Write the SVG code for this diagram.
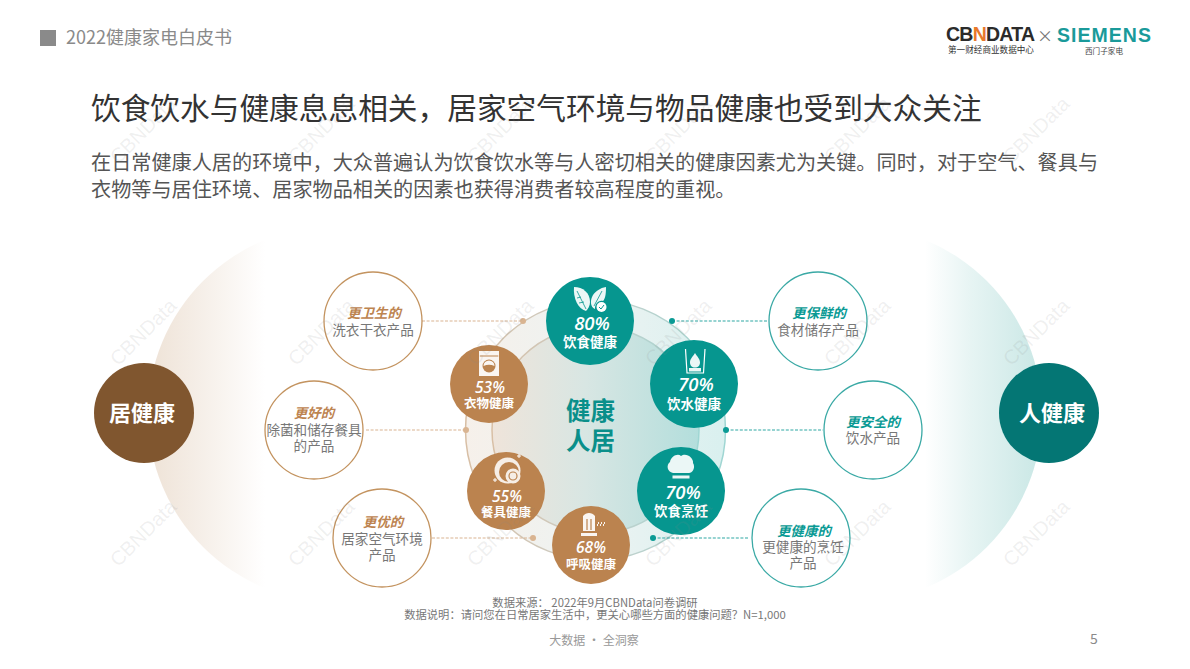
<svg xmlns="http://www.w3.org/2000/svg" width="1190" height="669" viewBox="0 0 1190 669">
<style>
text{font-family:"Noto Sans CJK SC","Noto Sans",sans-serif}
.m{text-anchor:middle}
.wm{font-family:"Liberation Sans",sans-serif;font-size:20px;fill:#888;fill-opacity:.13;text-anchor:middle}
.pb{font-family:"Open Sans",sans-serif;font-style:italic;font-weight:600;fill:#fff;text-anchor:middle;font-size:15.5px}
.pt{font-family:"Open Sans",sans-serif;font-style:italic;font-weight:600;fill:#fff;text-anchor:middle;font-size:18.5px}
.lb{fill:#fff;font-weight:700;text-anchor:middle;font-size:12.5px}
.lt{fill:#fff;font-weight:700;text-anchor:middle;font-size:13.5px}
.hb{fill:#bd8450;font-weight:700;font-style:italic;text-anchor:middle;font-size:13.5px}
.ht{fill:#0a9a94;font-weight:700;font-style:italic;text-anchor:middle;font-size:13.5px}
.bd{fill:#777;text-anchor:middle;font-size:13.6px}
.cb{fill:#fff;stroke:#c3935f;stroke-width:1.3}
.ct{fill:#fff;stroke:#3aa9a5;stroke-width:1.3}
.nb{fill:#bb834f}.nt{fill:#06968f}
.db{stroke:#d9b491;stroke-width:1.2;stroke-dasharray:3 1.6;fill:none}
.dt{stroke:#2fa8a3;stroke-width:1.2;stroke-dasharray:3 1.6;fill:none}
.i{fill:#fff;opacity:.92}
</style>
<defs>
<linearGradient id="gl" gradientUnits="userSpaceOnUse" x1="148" y1="0" x2="265" y2="0"><stop offset="0" stop-color="#eee2d6"/><stop offset=".6" stop-color="#f8f3ee"/><stop offset="1" stop-color="#fff"/></linearGradient>
<linearGradient id="gr" gradientUnits="userSpaceOnUse" x1="1042" y1="0" x2="925" y2="0"><stop offset="0" stop-color="#c9e7e5"/><stop offset=".6" stop-color="#e6f4f3"/><stop offset="1" stop-color="#fff"/></linearGradient>
<linearGradient id="ro" x1="0" y1="0" x2="1" y2="0"><stop offset="0" stop-color="#f6f0ea"/><stop offset=".5" stop-color="#edf3f2"/><stop offset="1" stop-color="#d9f0ef"/></linearGradient>
<linearGradient id="ri" x1="0" y1="0" x2="1" y2="0"><stop offset="0" stop-color="#efe4da"/><stop offset=".45" stop-color="#d8e6e3"/><stop offset="1" stop-color="#b3dedc"/></linearGradient>
<linearGradient id="rs" x1="0" y1="0" x2="1" y2="0"><stop offset="0" stop-color="#d8bfa5"/><stop offset=".5" stop-color="#c9cfca"/><stop offset="1" stop-color="#9fd6d3"/></linearGradient>
</defs>

<g id="header">
<rect x="40" y="30" width="16" height="16" fill="#8a8a8a"/>
<text x="66" y="44" font-size="18" fill="#8a8a8a">2022健康家电白皮书</text>
</g>
<g id="logo">
<text x="946" y="41" font-size="19.5" font-weight="700" fill="#2b2b2b" style="font-family:'Liberation Sans',sans-serif" textLength="89">CB<tspan fill="#e8792b">N</tspan>DATA</text>
<text x="991" y="53" class="m" font-size="8.6" fill="#333">第一财经商业数据中心</text>
<text x="1045" y="42" class="m" font-size="16" fill="#777">×</text>
<text x="1057" y="41.500" font-size="19.500" font-weight="700" fill="#1a9a9a" style="font-family:'Liberation Sans',sans-serif" textLength="94">SIEMENS</text>
<text x="1104" y="54" class="m" font-size="7.600" fill="#444">西门子家电</text>
</g>

<g id="title">
<text x="91" y="119" font-size="29.700" fill="#333">饮食饮水与健康息息相关，居家空气环境与物品健康也受到大众关注</text>
<text x="91" y="170" font-size="20.150" fill="#555">在日常健康人居的环境中，大众普遍认为饮食饮水等与人密切相关的健康因素尤为关键。同时，对于空气、餐具与</text>
<text x="91" y="197" font-size="20.150" fill="#555">衣物等与居住环境、居家物品相关的因素也获得消费者较高程度的重视。</text>
<text x="595" y="268" class="m" font-size="17.300" fill="#555">日常居家中关心的健康因素</text>
</g>

<g id="backdrops">
<circle cx="336" cy="414" r="188" fill="url(#gl)"/>
<circle cx="854" cy="414" r="188" fill="url(#gr)"/>
<rect x="265" y="220" width="660" height="385" fill="#fff"/>
</g>

<g id="rings">
<circle cx="595.500" cy="430" r="130" fill="url(#ro)" stroke="url(#rs)" stroke-width="1.500"/>
<circle cx="595.500" cy="430" r="103.500" fill="url(#ri)" stroke="url(#rs)" stroke-width="1.500"/>
</g>

<g id="connectors">
<path class="db" d="M422 321H523M366 430H466M432 538H533"/>
<path class="dt" d="M672 321H768M726 430H823M653 538H749"/>
<g fill="#d9b491"><circle cx="523" cy="321" r="3"/><circle cx="466" cy="430" r="3"/><circle cx="533" cy="538" r="3"/></g>
<g fill="#0a9a94"><circle cx="672" cy="321" r="3"/><circle cx="726" cy="430" r="3"/><circle cx="653" cy="538" r="3"/></g>
</g>

<g id="center-label">
<text x="590.500" y="420" class="m" font-size="24.500" font-weight="700" fill="#0a8f8a">健康</text>
<text x="590.500" y="450" class="m" font-size="24.500" font-weight="700" fill="#0a8f8a">人居</text>
</g>

<g id="node-food">
<circle class="nt" cx="590" cy="321" r="44"/>
<path class="i" d="M574 287C583 287 590 293 590 302C590 306 588 309 586 311C578 309 573 298 574 287Z"/>
<path class="i" d="M606 287C606 295 605 299 603 301C598 300 595 304 595 309C590 307 590 300 593 295C596 291 600 288 606 287Z"/>
<path d="M577 291L586 309M581 297l-4 1M584 302l-5 1M602 291L594 306" fill="none" stroke="#06968f" stroke-width=".8"/>
<circle cx="601.500" cy="307" r="5" fill="#fff"/>
<path d="M599 307l2 2 3-4" fill="none" stroke="#06968f" stroke-width="1"/>
<text class="pt" x="592" y="330">80%</text>
<text class="lt" x="590" y="347">饮食健康</text>
</g>
<g id="node-water">
<circle class="nt" cx="694" cy="384" r="44"/>
<path d="M685.500 349L687 373H703.500L705 349" fill="none" stroke="#fff" stroke-width="1.200"/>
<path class="i" d="M695 353C697.500 357 700 359 700 362.500C700 365.500 698 367.500 695 367.500C692 367.500 690 365.500 690 362.500C690 359 692.500 357 695 353Z"/>
<rect class="i" x="689" y="368" width="12" height="3.500"/>
<text class="pt" x="696" y="391">70%</text>
<text class="lt" x="694" y="409">饮水健康</text>
</g>
<g id="node-cook">
<circle class="nt" cx="681" cy="491" r="44"/>
<path class="i" d="M673 473C667 472 666 465 670 462C671 456 678 453 681 456C686 452 694 458 693 463C696 468 692 473 689 473Z"/>
<rect class="i" x="672.500" y="475.500" width="17" height="3"/>
<text class="pt" x="683" y="499">70%</text>
<text class="lt" x="681" y="516">饮食烹饪</text>
</g>
<g id="node-breath">
<circle class="nb" cx="591" cy="545" r="39"/>
<path class="i" d="M583 516C586 512 592 512 595 516V531H583Z"/>
<rect class="i" x="581" y="533" width="16" height="3"/>
<path d="M587 519V530M591 519V530" stroke="#bb834f" stroke-width="1.200"/>
<path d="M598 522q2 1 0 2t0 2M601 522q2 1 0 2t0 2M604 522q2 1 0 2t0 2" fill="none" stroke="#fff" stroke-width=".9"/>
<text class="pb" x="591" y="553">68%</text>
<text class="lb" x="591" y="569">呼吸健康</text>
</g>
<g id="node-dishes">
<circle class="nb" cx="506" cy="491" r="39"/>
<circle cx="507.500" cy="470.500" r="13" fill="#f6eee6"/>
<circle class="nb" cx="509" cy="472" r="10"/>
<circle cx="513" cy="476" r="7.500" fill="#f6eee6"/>
<circle cx="513" cy="476" r="4" fill="none" stroke="#bb834f" stroke-width="1.200"/>
<path d="M517 456h4m-2-2v4M493 480h4m-2-2v4" stroke="#fff" stroke-width="1"/>
<text class="pb" x="507" y="502">55%</text>
<text class="lb" x="506" y="517">餐具健康</text>
</g>
<g id="node-clothes">
<circle class="nb" cx="489" cy="384" r="39"/>
<rect class="i" x="479" y="351" width="20" height="25"/>
<rect x="479.800" y="355.500" width="18.500" height="1" fill="#bb834f"/>
<circle cx="489" cy="366" r="6.500" fill="#bb834f"/>
<path class="i" d="M483.500 366a5.500 5.500 0 0 1 11 0q-5.500-2.500-11 0Z"/>
<text class="pb" x="490" y="393">53%</text>
<text class="lb" x="489" y="408">衣物健康</text>
</g>

<g id="node-ju">
<circle cx="144" cy="413" r="50" fill="#80562f"/>
<text x="142" y="421" class="m" font-size="22" font-weight="700" fill="#fff">居健康</text>
</g>
<g id="node-ren">
<circle cx="1049" cy="413" r="50" fill="#047674"/>
<text x="1052" y="421" class="m" font-size="22" font-weight="700" fill="#fff">人健康</text>
</g>

<g id="item-laundry">
<circle class="cb" cx="373" cy="321" r="49"/>
<text class="hb" x="374" y="318">更卫生的</text>
<text class="bd" x="373" y="335">洗衣干衣产品</text>
</g>
<g id="item-tableware">
<circle class="cb" cx="314" cy="430" r="49"/>
<text class="hb" x="314" y="418">更好的</text>
<text class="bd" x="314" y="435">除菌和储存餐具</text>
<text class="bd" x="314" y="451">的产品</text>
</g>
<g id="item-air">
<circle class="cb" cx="382" cy="538" r="49"/>
<text class="hb" x="383" y="527">更优的</text>
<text class="bd" x="382" y="544">居家空气环境</text>
<text class="bd" x="382" y="560">产品</text>
</g>
<g id="item-fresh">
<circle class="ct" cx="818" cy="321" r="49"/>
<text class="ht" x="819" y="318">更保鲜的</text>
<text class="bd" x="818" y="335">食材储存产品</text>
</g>
<g id="item-drink">
<circle class="ct" cx="873" cy="430" r="49"/>
<text class="ht" x="873" y="427">更安全的</text>
<text class="bd" x="873" y="443">饮水产品</text>
</g>
<g id="item-cooking">
<circle class="ct" cx="801" cy="538" r="49"/>
<text class="ht" x="804" y="536">更健康的</text>
<text class="bd" x="803" y="552">更健康的烹饪</text>
<text class="bd" x="803" y="568">产品</text>
</g>

<g id="footer">
<text x="595" y="607" class="m" font-size="11.300" fill="#777">数据来源： 2022年9月CBNData问卷调研</text>
<text x="595" y="619" class="m" font-size="11.300" fill="#777">数据说明：请问您在日常居家生活中，更关心哪些方面的健康问题？N=1,000</text>
<text x="594" y="645" class="m" font-size="12" fill="#999">大数据 · 全洞察</text>
<text x="1094" y="644" class="m" font-size="14" fill="#8a8a8a">5</text>
</g>

<g id="watermarks">
<text class="wm" transform="translate(148 135) rotate(-45)">CBNData</text>
<text class="wm" transform="translate(326 135) rotate(-45)">CBNData</text>
<text class="wm" transform="translate(505 135) rotate(-45)">CBNData</text>
<text class="wm" transform="translate(683 135) rotate(-45)">CBNData</text>
<text class="wm" transform="translate(862 135) rotate(-45)">CBNData</text>
<text class="wm" transform="translate(1041 135) rotate(-45)">CBNData</text>
<text class="wm" transform="translate(148 337) rotate(-45)">CBNData</text>
<text class="wm" transform="translate(148 538) rotate(-45)">CBNData</text>
<text class="wm" transform="translate(326 337) rotate(-45)">CBNData</text>
<text class="wm" transform="translate(326 538) rotate(-45)">CBNData</text>
<text class="wm" transform="translate(505 337) rotate(-45)">CBNData</text>
<text class="wm" transform="translate(505 538) rotate(-45)">CBNData</text>
<text class="wm" transform="translate(683 337) rotate(-45)">CBNData</text>
<text class="wm" transform="translate(683 538) rotate(-45)">CBNData</text>
<text class="wm" transform="translate(862 337) rotate(-45)">CBNData</text>
<text class="wm" transform="translate(862 538) rotate(-45)">CBNData</text>
<text class="wm" transform="translate(1041 337) rotate(-45)">CBNData</text>
<text class="wm" transform="translate(1041 538) rotate(-45)">CBNData</text>
</g>
</svg>
